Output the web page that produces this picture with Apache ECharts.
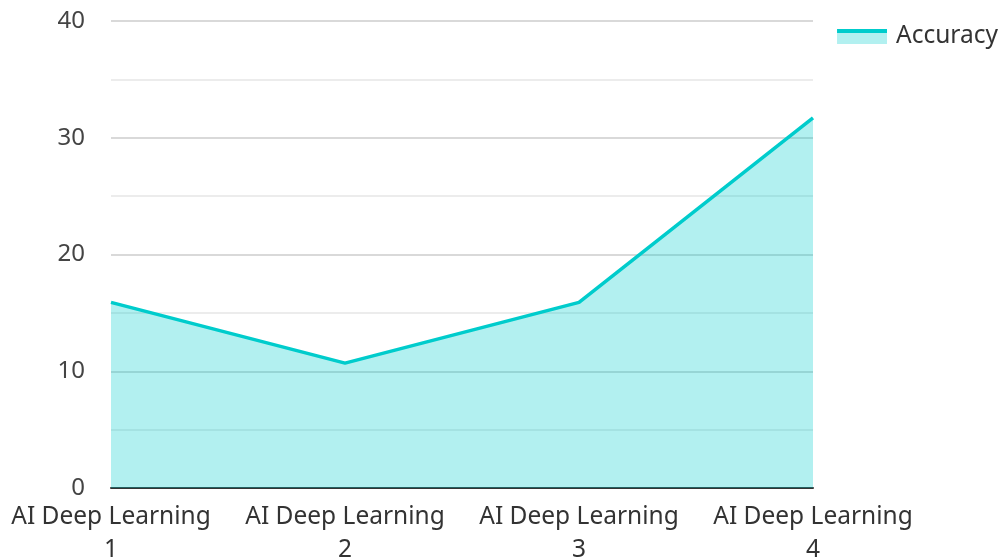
<!DOCTYPE html>
<html>
  <head>
    <meta charset="utf-8" />
    <title>Accuracy</title>
    <script src="https://cdn.jsdelivr.net/npm/echarts@6/dist/echarts.min.js"></script>
    <style>
      html, body { margin: 0; padding: 0; background: #fff; }
    </style>
  </head>
  <body>
    <div id="chart" style="width: 1003px; height: 558px"></div>
    <script type="text/javascript">
// Data
const categories = ['AI Deep Learning\n1', 'AI Deep Learning\n2', 'AI Deep Learning\n3', 'AI Deep Learning\n4'];
const accuracy = [15.9, 10.7, 15.9, 31.7];

// legend swatch: light area with a cyan line on top
const swatch = 'image://data:image/svg+xml;utf8,' + encodeURIComponent(
  '<svg xmlns="http://www.w3.org/2000/svg" width="50" height="15">' +
  '<rect x="0" y="0" width="50" height="15" fill="#b2f0f0"/>' +
  '<rect x="0" y="0" width="50" height="4" fill="#00cccc"/></svg>'
);

const chart = echarts.init(document.getElementById('chart'));

const option = {
  textStyle: { fontFamily: 'Noto Sans' },
  animation: false,
  legend: {
    right: 0,
    top: 19,
    itemWidth: 50,
    itemHeight: 15,
    itemGap: 9,
    icon: swatch,
    textStyle: { fontSize: 24.5, color: '#333', fontFamily: 'Noto Sans', padding: [0, 0, 0, 4] },
    data: ['Accuracy']
  },
  grid: {
    left: 111,
    right: 190,
    top: 21,
    bottom: 70,
    outerBoundsMode: 'none',
    containLabel: false
  },
  xAxis: {
    type: 'category',
    boundaryGap: false,
    data: categories,
    axisLine: { lineStyle: { color: '#333', width: 2 } },
    axisTick: { show: false },
    axisLabel: {
      fontSize: 24.5,
      color: '#333',
      lineHeight: 33,
      margin: 13,
      interval: 0
    }
  },
  yAxis: {
    type: 'value',
    min: 0,
    max: 40,
    interval: 10,
    axisLine: { show: false },
    axisTick: { show: false },
    axisLabel: { fontSize: 24, color: '#444', margin: 26 },
    splitLine: { lineStyle: { color: '#cccccc', width: 1.5 } },
    minorTick: { show: false, splitNumber: 2 },
    minorSplitLine: { show: true, lineStyle: { color: '#e6e6e6', width: 1.5 } }
  },
  series: [
    {
      name: 'Accuracy',
      type: 'line',
      data: accuracy,
      symbol: 'none',
      z: 3,
      lineStyle: { color: '#00cccc', width: 3.5 },
      itemStyle: { color: '#00cccc' },
      areaStyle: { color: '#00cccc', opacity: 0.3 }
    }
  ]
};

chart.setOption(option);
    </script>
  </body>
</html>
